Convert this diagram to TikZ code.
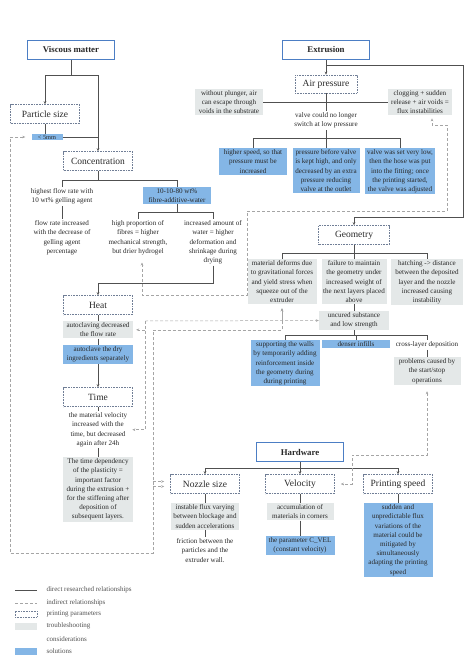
\documentclass[tikz,border=0pt]{standalone}
\usepackage{fontspec}
\setmainfont{Liberation Serif}
\usetikzlibrary{arrows.meta}

\definecolor{boxblue}{RGB}{76,126,196}
\definecolor{dotgrey}{RGB}{112,126,150}
\definecolor{troublegrey}{RGB}{228,232,232}
\definecolor{solblue}{RGB}{132,182,230}
\definecolor{linegrey}{RGB}{80,80,80}
\definecolor{dashgrey}{RGB}{165,165,165}
\definecolor{textgrey}{RGB}{40,40,40}

\tikzset{
  mainbox/.style={draw=boxblue, line width=1.2pt, fill=white, minimum width=87pt, minimum height=19pt, text=textgrey, font=\bfseries\fontsize{8.8}{10}\selectfont},
  parbox/.style={draw=dotgrey, dash pattern=on 0.8pt off 0.8pt, line width=0.6pt, minimum width=69pt, minimum height=19pt, text=textgrey, font=\fontsize{9.5}{11}\selectfont},
  txt/.style={align=center, inner xsep=1pt, inner ysep=1.5pt, text=textgrey, font=\fontsize{7.1}{9.2}\selectfont},
  trouble/.style={txt, fill=troublegrey},
  solution/.style={txt, fill=solblue},
  consid/.style={txt},
  link/.style={draw=linegrey, line width=0.6pt},
  dlink/.style={draw=dashgrey, dash pattern=on 3pt off 2pt, line width=0.5pt},
  legtxt/.style={anchor=west, text=linegrey, font=\fontsize{7}{8}\selectfont}
}

\begin{document}
\begin{tikzpicture}[x=1pt, y=-1pt, >={Stealth[length=3pt,width=2.6pt]}]
    \useasboundingbox (0,0) rectangle (474,669);

    % Grandes bloques
    \node[mainbox] (visc) at (71,50) {Viscous matter};
    \node[mainbox] (extr) at (326,50) {Extrusion};
    \node[mainbox] (hard) at (300,452) {Hardware};

    % Viscous matter
    \node[parbox] (psize) at (45,114) {Particle size};
    \node[solution, minimum width=31pt, inner ysep=1pt, font=\fontsize{6.3}{7}\selectfont] (lt5) at (47,137) {< 5mm};
    \node[parbox] (conc) at (98,161) {Concentration};
    \node[consid, anchor=north] (hiflow) at (62,187) {highest flow rate with\\10 wt\% gelling agent};
    \node[solution, anchor=north, minimum width=68pt] (fibre) at (177,187) {10-10-80 wt\%\\fibre-additive-water};
    \node[consid, anchor=north] (flowinc) at (62,219) {flow rate increased\\with the decrease of\\gelling agent\\percentage};
    \node[consid, anchor=north] (hiprop) at (138,219) {high proportion of\\fibres = higher\\mechanical strength,\\but drier hydrogel};
    \node[consid, anchor=north] (water) at (213,219) {increased amount of\\water = higher\\deformation and\\shrinkage during\\drying};

    % Heat y Time
    \node[parbox] (heat) at (98,305) {Heat};
    \node[trouble, anchor=north, minimum width=70pt] (autodec) at (98,321) {autoclaving decreased\\the flow rate};
    \node[solution, anchor=north, minimum width=70pt] (autodry) at (98,345) {autoclave the dry\\ingredients separately};
    \node[parbox] (time) at (98,397) {Time};
    \node[consid, anchor=north] (velinc) at (98,411) {the material velocity\\increased with the\\time, but decreased\\again after 24h};
    \node[trouble, anchor=north, minimum width=70pt] (timedep) at (98,457) {The time dependency\\of the plasticity =\\important factor\\during the extrusion +\\for the stiffening after\\deposition of\\subsequent layers.};

    % Extrusion
    \node[parbox, minimum width=62pt, minimum height=18pt] (air) at (326,84) {Air pressure};
    \node[trouble, minimum width=68pt] (plunger) at (229,102) {without plunger, air\\can escape through\\voids in the substrate};
    \node[trouble, minimum width=64pt] (clog) at (420,102) {clogging + sudden\\release + air voids =\\flux instabilities};
    \node[consid, anchor=north] (valve) at (326,111) {valve could no longer\\switch at low pressure};
    \node[solution, anchor=north, minimum width=68pt] (speed) at (253,148) {higher speed, so that\\pressure must be\\increased};
    \node[solution, anchor=north, minimum width=67pt] (keephigh) at (326,148) {pressure before valve\\is kept high, and only\\decreased by an extra\\pressure reducing\\valve at the outlet};
    \node[solution, anchor=north, minimum width=70pt] (setlow) at (400,148) {valve was set very low,\\then the hose was put\\into the fitting; once\\the printing started,\\the valve was adjusted};

    % Geometry
    \node[parbox, minimum width=71pt] (geom) at (354,235) {Geometry};
    \node[trouble, anchor=north, minimum width=69pt] (deform) at (282,259) {material deforms due\\to gravitational forces\\and yield stress when\\squeeze out of the\\extruder};
    \node[trouble, anchor=north, minimum width=65pt] (failure) at (354,259) {failure to maintain\\the geometry under\\increased weight of\\the next layers placed\\above};
    \node[trouble, anchor=north, minimum width=72pt] (hatch) at (427,259) {hatching -> distance\\between the deposited\\layer and the nozzle\\increased causing\\instability};
    \node[trouble, anchor=north, minimum width=70pt] (uncured) at (354,311) {uncured substance\\and low strength};
    \node[solution, anchor=north, minimum width=69pt] (walls) at (285,340) {supporting the walls\\by temporarily adding\\reinforcement inside\\the geometry during\\during printing};
    \node[solution, anchor=north, minimum width=68pt] (infill) at (356,340) {denser infills};
    \node[consid, anchor=north] (cross) at (427,340) {cross-layer deposition};
    \node[trouble, anchor=north, minimum width=67pt] (startstop) at (427,357) {problems caused by\\the start/stop\\operations};

    % Hardware
    \node[parbox] (nozzle) at (205,484) {Nozzle size};
    \node[parbox] (vel) at (300,484) {Velocity};
    \node[parbox] (pspeed) at (398,484) {Printing speed};
    \node[trouble, anchor=north, minimum width=68pt] (instable) at (205,503) {instable flux varying\\between blockage and\\sudden accelerations};
    \node[consid, anchor=north] (friction) at (205,537) {friction between the\\particles and the\\extruder wall.};
    \node[trouble, anchor=north, minimum width=67pt] (accum) at (300,503) {accumulation of\\materials in corners};
    \node[solution, anchor=north, minimum width=69pt] (cvel) at (300,536) {the parameter C\_VEL\\(constant velocity)};
    \node[solution, anchor=north, minimum width=69pt] (sudden) at (398,503) {sudden and\\unpredictable flux\\variations of the\\material could be\\mitigated by\\simultaneously\\adapting the printing\\speed};

    % Relaciones directas
    \coordinate (vj) at (71,75);
    \draw[link] (visc.south) -- (vj);
    \draw[link,->] (vj) -| (psize.north);
    \draw[link,->] (vj) -| (conc.north);
    \draw[link] (psize.south) -- (psize.south |- lt5.north);
    \draw[link] (lt5.east) -- (lt5.east -| conc.north);
    \coordinate (cj) at (98,180);
    \draw[link] (conc.south) -- (cj);
    \draw[link] (cj) -| (hiflow.north);
    \draw[link] (cj) -| (fibre.north);
    \draw[link] (hiflow.south) -- (flowinc.north);
    \coordinate (fj) at (177,212);
    \draw[link] (fibre.south) -- (fj);
    \draw[link] (fj) -| (hiprop.north);
    \draw[link] (fj) -| (water.north);
    \coordinate (wj) at (213,283);
    \draw[link,->] (water.south) -- (wj) -| (heat.north);
    \draw[link] (heat.south) -- (autodec.north);
    \draw[link] (autodec.south) -- (autodry.north);
    \draw[link,->] (autodry.south) -- (time.north);
    \draw[link] (time.south) -- (velinc.north);
    \draw[link] (velinc.south) -- (timedep.north);

    \coordinate (ej) at (326,65);
    \draw[link] (extr.south) -- (ej);
    \draw[link,->] (ej) -- (463,65) -- (463,217) -| (geom.north);
    \draw[link,->] (ej) -- (air.north);
    \draw[link] (air.south) -- (valve.north);
    \draw[link] (plunger.east) -- (clog.west);
    \coordinate (pj) at (326,138);
    \draw[link] (valve.south) -- (pj);
    \draw[link] (pj) -| (speed.north);
    \draw[link] (pj) -- (keephigh.north);
    \draw[link] (pj) -| (setlow.north);

    \coordinate (gj) at (354,253);
    \draw[link] (geom.south) -- (gj);
    \draw[link] (gj) -| (deform.north);
    \draw[link] (gj) -- (failure.north);
    \draw[link] (gj) -| (hatch.north);
    \draw[link] (failure.south) -- (uncured.north);
    \coordinate (uj) at (354,335);
    \draw[link] (uncured.south) -- (uj);
    \draw[link] (uj) -| (walls.north);
    \draw[link] (uj) -| (infill.north);
    \draw[link] (uj) -| (cross.north);
    \draw[link] (cross.south) -- (startstop.north);

    \coordinate (hj) at (300,468);
    \draw[link] (hard.south) -- (hj);
    \draw[link,->] (hj) -| (nozzle.north);
    \draw[link,->] (hj) -- (vel.north);
    \draw[link,->] (hj) -| (pspeed.north);
    \draw[link] (nozzle.south) -- (instable.north);
    \draw[link] (instable.south) -- (friction.north);
    \draw[link] (vel.south) -- (accum.north);
    \draw[link] (accum.south) -- (cvel.north);
    \draw[link] (pspeed.south) -- (sudden.north);

    % Relaciones indirectas
    \draw[dlink,<->] ([xshift=4pt,yshift=-6pt]hiprop.south) |- (247,295) -- (247,211) -- (447,211) -- (447,125) -| ([xshift=12pt,yshift=-3pt]clog.south);
    \coordinate (da) at (145,321);
    \draw[dlink,->] (da) -- (uncured.west);
    \draw[dlink,->] (da) |- ([xshift=4pt]velinc.east);
    \draw[dlink,->] (da |- autodec.east) -- ([xshift=3pt]autodec.east);
    \draw[dlink,->] (da -| deform.south) -- ([yshift=-4pt]deform.south);
    \coordinate (dc) at (153,330);
    \draw[dlink,<->] ([xshift=-6pt]lt5.west) -| (10,553) -| (dc) -| ([yshift=-4pt]deform.south);
    \draw[dlink,->] ([yshift=2.5pt]dc |- nozzle.west) -- ([xshift=-6pt,yshift=2.5pt]nozzle.west);
    \draw[dlink,->] ([yshift=-2.5pt]dc |- nozzle.west) -- ([xshift=-6pt,yshift=-2.5pt]nozzle.west);
    \coordinate (dd) at (352,455);
    \draw[dlink,<->] ([yshift=-6pt]startstop.south) |- (dd) |- ([xshift=6pt]vel.east);

    % Leyenda
    \draw[link] (15,590) -- (37,590);
    \node[legtxt] (lg1) at (43,590) {direct researched relationships};
    \draw[dlink] (15,603) -- (37,603);
    \node[legtxt] (lg2) at (43,603) {indirect relationships};
    \node[parbox, minimum width=22pt, minimum height=6pt, inner sep=0pt] (sw3) at (26,614) {};
    \node[legtxt] (lg3) at (43,614) {printing parameters};
    \node[fill=troublegrey, minimum width=22pt, minimum height=7pt, inner sep=0pt] (sw4) at (26,626) {};
    \node[legtxt] (lg4) at (43,626) {troubleshooting};
    \node[legtxt] (lg5) at (43,639) {considerations};
    \node[fill=solblue, minimum width=22pt, minimum height=7pt, inner sep=0pt] (sw6) at (26,651) {};
    \node[legtxt] (lg6) at (43,651) {solutions};
\end{tikzpicture}
\end{document}
